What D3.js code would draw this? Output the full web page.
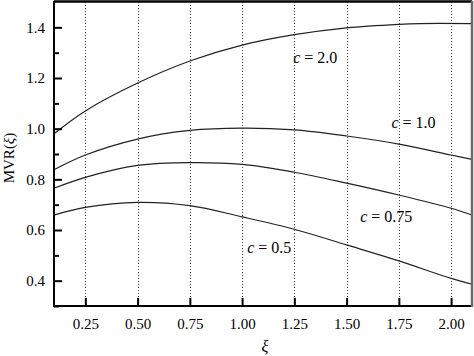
<!DOCTYPE html>
<html><head><meta charset="utf-8">
<script src="https://cdn.jsdelivr.net/npm/d3@7"></script>
<style>
html,body{margin:0;padding:0;background:#fff;}
svg{display:block;font-family:"Liberation Serif","Times New Roman",serif;}
</style></head>
<body><svg id="c" width="474" height="356"></svg>
<script>
// Data
const xiA = [0.1, 0.25, 0.5, 0.75, 1.0, 1.25, 1.5, 1.75, 2.0, 2.1];
const xiC2 = [0.1, 0.25, 0.5, 0.75, 1.0, 1.25, 1.5, 1.75, 1.85, 2.1];
const c20 = [0.98, 1.07, 1.18, 1.267, 1.33, 1.371, 1.398, 1.412, 1.415, 1.415];
const c10 = [0.838, 0.896, 0.959, 0.993, 1.002, 0.995, 0.971, 0.939, 0.896, 0.879];
const c075 = [0.765, 0.808, 0.855, 0.866, 0.859, 0.828, 0.785, 0.738, 0.686, 0.659];
const c05 = [0.659, 0.689, 0.709, 0.696, 0.652, 0.603, 0.541, 0.478, 0.409, 0.386];
const xTicks = [0.25, 0.5, 0.75, 1.0, 1.25, 1.5, 1.75, 2.0];
const yMajor = [0.4, 0.6, 0.8, 1.0, 1.2, 1.4];
const yMinor = [0.3, 0.5, 0.7, 0.9, 1.1, 1.3];
const labels = [
  {c: "2.0", x: 1.35, y: 1.259},
  {c: "1.0", x: 1.82, y: 1.003},
  {c: "0.75", x: 1.69, y: 0.632},
  {c: "0.5", x: 1.13, y: 0.509}
];

const svg = d3.select("#c");
const L = 54, R = 472, T = 2, B = 306;
const x = d3.scaleLinear().domain([0.1, 2.1]).range([L, R]);
const y = d3.scaleLinear().domain([0.3, 1.5]).range([B, T]);

// dotted grid
svg.append("g").selectAll("line").data(xTicks).join("line")
  .attr("x1", d => Math.round(x(d)) + 0.5).attr("x2", d => Math.round(x(d)) + 0.5)
  .attr("y1", T).attr("y2", B)
  .attr("stroke", "#444").attr("stroke-width", 1).attr("stroke-dasharray", "1,2");

// curves
const line = d3.line().x(d => x(d[0])).y(d => y(d[1])).curve(d3.curveCatmullRom.alpha(0.5));
const series = [
  xiC2.map((v, i) => [v, c20[i]]),
  xiA.map((v, i) => [v, c10[i]]),
  xiA.map((v, i) => [v, c075[i]]),
  xiA.map((v, i) => [v, c05[i]])
];
svg.append("g").selectAll("path").data(series).join("path")
  .attr("d", line).attr("fill", "none").attr("stroke", "#222").attr("stroke-width", 1.2);

// axes with inward ticks
const xAxis = d3.axisBottom(x).tickValues(xTicks).tickSize(-8).tickPadding(12)
  .tickFormat(d3.format(".2f"));
const gx = svg.append("g").attr("transform", `translate(0,${B})`).call(xAxis);
gx.select(".domain").remove();
gx.selectAll(".tick line").attr("stroke", "#000").attr("stroke-width", 2);
gx.selectAll(".tick text").attr("font-size", 15).attr("font-family", "Liberation Serif").attr("fill", "#000");

const yAxis = d3.axisLeft(y).tickValues(yMajor).tickSize(-8).tickPadding(9)
  .tickFormat(d3.format(".1f"));
const gy = svg.append("g").attr("transform", `translate(${L},0)`).call(yAxis);
gy.select(".domain").remove();
gy.selectAll(".tick line").attr("stroke", "#000").attr("stroke-width", 2);
gy.selectAll(".tick text").attr("font-size", 15).attr("font-family", "Liberation Serif").attr("fill", "#000");

const gym = svg.append("g").attr("transform", `translate(${L},0)`)
  .call(d3.axisLeft(y).tickValues(yMinor).tickSize(-5).tickFormat(""));
gym.select(".domain").remove();
gym.selectAll(".tick line").attr("stroke", "#000").attr("stroke-width", 2);

// frame
svg.append("line").attr("x1", L).attr("x2", R).attr("y1", T - 0.5).attr("y2", T - 0.5).attr("stroke", "#000").attr("stroke-width", 2.5);
svg.append("line").attr("x1", L).attr("x2", R).attr("y1", B).attr("y2", B).attr("stroke", "#000").attr("stroke-width", 2);
svg.append("line").attr("x1", L).attr("x2", L).attr("y1", T - 1).attr("y2", B + 1).attr("stroke", "#000").attr("stroke-width", 2);
svg.append("line").attr("x1", R).attr("x2", R).attr("y1", T - 1).attr("y2", B + 1).attr("stroke", "#6a6a6a").attr("stroke-width", 2.5);

// curve labels
labels.forEach(l => {
  const t = svg.append("text").attr("x", x(l.x)).attr("y", y(l.y))
    .attr("font-size", 16).attr("fill", "#000").attr("text-anchor", "middle");
  t.append("tspan").attr("font-style", "italic").text("c");
  t.append("tspan").text(" = " + l.c);
});

// axis titles
const yt = svg.append("text").attr("transform", "translate(14,158) rotate(-90)")
  .attr("text-anchor", "middle").attr("font-size", 15).attr("fill", "#000");
yt.append("tspan").text("MVR(");
yt.append("tspan").attr("font-style", "italic").text("ξ");
yt.append("tspan").text(")");

svg.append("text").attr("x", 265).attr("y", 352).attr("text-anchor", "middle")
  .attr("font-size", 16).attr("font-style", "italic").attr("fill", "#000").text("ξ");
</script></body></html>
